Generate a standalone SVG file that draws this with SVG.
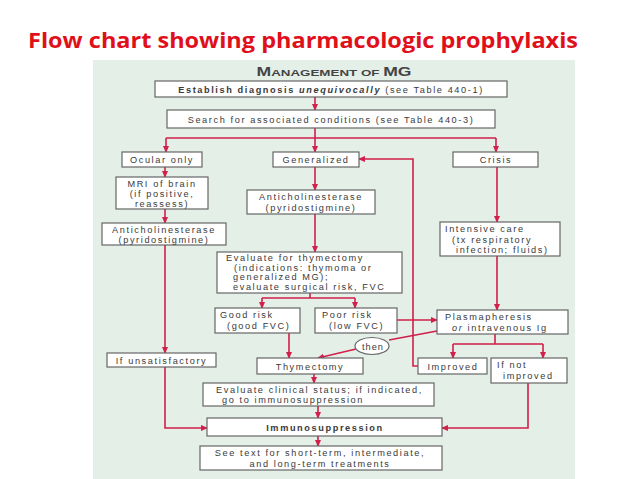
<svg xmlns="http://www.w3.org/2000/svg" width="638" height="479" viewBox="0 0 638 479">
<defs>
<marker id="ah" markerUnits="userSpaceOnUse" markerWidth="7" markerHeight="6" refX="6" refY="3" orient="auto">
<path d="M0,0 L7,3 L0,6 Z" fill="#d21f4b"/>
</marker>
<style>
.bx{fill:#fff;stroke:#666;stroke-width:1.2}
.t{font-family:"Liberation Sans",Arial,sans-serif;font-size:9.2px;letter-spacing:1.6px;fill:#3a3a3a}
.c{text-anchor:middle}
.cn{fill:none;stroke:#d21f4b;stroke-width:1.6}
.ar{marker-end:url(#ah)}
</style>
</defs>
<rect width="638" height="479" fill="#fff"/>
<text x="28" y="48" font-family="'Open Sans',sans-serif" font-weight="bold" font-size="22" fill="#e0101a" textLength="550" lengthAdjust="spacingAndGlyphs">Flow chart showing pharmacologic prophylaxis</text>
<rect x="93" y="60" width="482" height="419" fill="#e3efe7"/>
<text x="334" y="76" text-anchor="middle" font-family="'Liberation Sans',Arial,sans-serif" font-weight="bold" fill="#444" textLength="155" lengthAdjust="spacingAndGlyphs"><tspan font-size="12.5">M</tspan><tspan font-size="9.5">ANAGEMENT OF </tspan><tspan font-size="12.5">MG</tspan></text>

<g id="connectors">
<path class="cn ar" d="M315,97 V110"/>
<path class="cn" d="M315,128 V138 M166,138 H496"/>
<path class="cn ar" d="M166,138 V152"/>
<path class="cn ar" d="M315,138 V152"/>
<path class="cn ar" d="M496,138 V152"/>
<path class="cn ar" d="M165,167 V177"/>
<path class="cn ar" d="M165,209 V223"/>
<path class="cn ar" d="M165,245 V353"/>
<path class="cn ar" d="M165,367 V428 H207"/>
<path class="cn ar" d="M315,167 V190"/>
<path class="cn ar" d="M315,214 V252"/>
<path class="cn" d="M310,293 V298 M262,298 H355"/>
<path class="cn ar" d="M262,298 V308"/>
<path class="cn ar" d="M355,298 V308"/>
<path class="cn ar" d="M289,333 V358"/>
<path class="cn ar" d="M397,320 H437"/>
<path class="cn" d="M437,331 L389,340"/>
<path class="cn ar" d="M356,349 L318,358"/>
<path class="cn ar" d="M497,167 V222"/>
<path class="cn ar" d="M497,256 V310"/>
<path class="cn" d="M495,334 V344 M453,344 H543"/>
<path class="cn ar" d="M453,344 V358"/>
<path class="cn ar" d="M543,344 V358"/>
<path class="cn ar" d="M418,366 H413 V159 H359"/>
<path class="cn ar" d="M528,383 V428 H442"/>
<path class="cn ar" d="M314,374 V383"/>
<path class="cn ar" d="M318,406 V418"/>
<path class="cn ar" d="M318,436 V446"/>
</g>

<g id="establish"><rect class="bx" x="155" y="81" width="352" height="16"/><text class="t c" x="331" y="92.5"><tspan font-weight="bold">Establish diagnosis </tspan><tspan font-weight="bold" font-style="italic">unequivocally</tspan> (see Table 440-1)</text></g>
<g id="search"><rect class="bx" x="167" y="110" width="328" height="18"/><text class="t c" x="331" y="122.5">Search for associated conditions (see Table 440-3)</text></g>
<g id="ocular"><rect class="bx" x="122" y="152" width="80" height="15"/><text class="t c" x="162" y="163">Ocular only</text></g>
<g id="generalized"><rect class="bx" x="273" y="152" width="86" height="15"/><text class="t c" x="316" y="163">Generalized</text></g>
<g id="crisis"><rect class="bx" x="453" y="152" width="85" height="15"/><text class="t c" x="496" y="163">Crisis</text></g>
<g id="mri"><rect class="bx" x="116" y="177" width="92" height="32"/><text class="t c" x="162" y="186.5">MRI of brain</text><text class="t c" x="162" y="196.5">(if positive,</text><text class="t c" x="162" y="206.5">reassess)</text></g>
<g id="antichol-gen"><rect class="bx" x="247" y="190" width="128" height="24"/><text class="t c" x="311" y="200">Anticholinesterase</text><text class="t c" x="311" y="210.5">(pyridostigmine)</text></g>
<g id="antichol-ocular"><rect class="bx" x="102" y="223" width="124" height="22"/><text class="t c" x="164" y="232.5">Anticholinesterase</text><text class="t c" x="164" y="242.5">(pyridostigmine)</text></g>
<g id="intensive"><rect class="bx" x="440" y="222" width="120" height="34"/><text class="t" x="445" y="232">Intensive care</text><text class="t" x="452" y="242.5">(tx respiratory</text><text class="t" x="456" y="253">infection; fluids)</text></g>
<g id="evaluate-thymectomy"><rect class="bx" x="217" y="252" width="185" height="41"/><text class="t" x="226" y="261">Evaluate for thymectomy</text><text class="t" x="234" y="270.5">(indications: thymoma or</text><text class="t" x="233" y="280">generalized MG);</text><text class="t" x="233" y="289.5">evaluate surgical risk, FVC</text></g>
<g id="good-risk"><rect class="bx" x="215" y="308" width="85" height="25"/><text class="t" x="220" y="318">Good risk</text><text class="t" x="227" y="329">(good FVC)</text></g>
<g id="poor-risk"><rect class="bx" x="315" y="308" width="82" height="25"/><text class="t" x="322" y="318">Poor risk</text><text class="t" x="329" y="329">(low FVC)</text></g>
<g id="plasma"><rect class="bx" x="437" y="310" width="131" height="24"/><text class="t" x="445" y="320">Plasmapheresis</text><text class="t" x="452" y="330.5"><tspan font-style="italic">or</tspan> intravenous Ig</text></g>
<g id="then"><ellipse cx="372" cy="346" rx="17" ry="8.5" fill="#fff" stroke="#666" stroke-width="1.2"/><text class="t c" x="373" y="349.5" style="letter-spacing:1px">then</text></g>
<g id="unsatisfactory"><rect class="bx" x="107" y="353" width="109" height="14"/><text class="t c" x="161.5" y="363.5">If unsatisfactory</text></g>
<g id="thymectomy"><rect class="bx" x="257" y="358" width="106" height="16"/><text class="t c" x="310" y="369.5">Thymectomy</text></g>
<g id="improved"><rect class="bx" x="418" y="358" width="69" height="16"/><text class="t c" x="453" y="369.5">Improved</text></g>
<g id="not-improved"><rect class="bx" x="491" y="358" width="76" height="25"/><text class="t" x="497" y="368">If not</text><text class="t" x="503" y="379">improved</text></g>
<g id="evaluate-clinical"><rect class="bx" x="203" y="383" width="231" height="23"/><text class="t" x="216" y="392.5">Evaluate clinical status; if indicated,</text><text class="t" x="222" y="402.5">go to immunosuppression</text></g>
<g id="immuno"><rect class="bx" x="207" y="418" width="235" height="18"/><text class="t c" x="325" y="430.5" font-weight="bold">Immunosuppression</text></g>
<g id="see-text"><rect class="bx" x="200" y="446" width="242" height="24"/><text class="t c" x="320" y="456">See text for short-term, intermediate,</text><text class="t c" x="320" y="466.5">and long-term treatments</text></g>
</svg>
